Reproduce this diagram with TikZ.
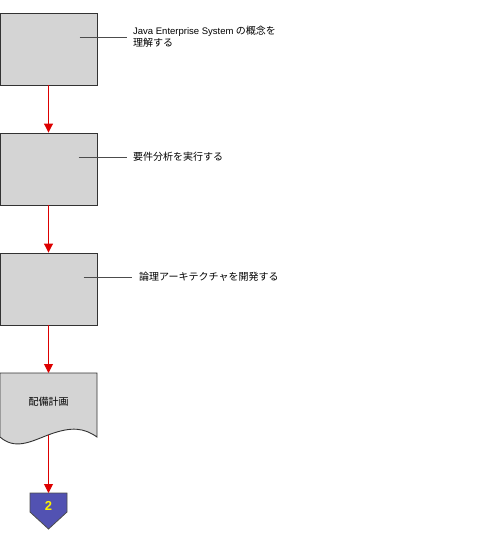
\documentclass[tikz,border=0pt]{standalone}
\usepackage{fontspec}
\setmainfont{Noto Sans CJK JP}
\newfontfamily\latin{Liberation Sans}
\usetikzlibrary{calc,positioning,arrows.meta}

\begin{document}
\begin{tikzpicture}[x=1pt,y=-1pt,font=\fontsize{10}{12}\selectfont]
\definecolor{StepGray}{RGB}{212,212,212}
\definecolor{FlowRed}{RGB}{221,0,0}
\definecolor{LinkBlue}{RGB}{82,82,178}
\def \w{97}
\def \h{72}

\tikzset{
	stepbox/.style={draw=black!80, line width=0.9, fill=StepGray, minimum width=\w pt, minimum height=\h pt, inner sep=0},
	flow/.style={FlowRed, line width=1, -{Triangle[length=9pt,width=9pt]}},
	callout/.style={black!70, line width=0.8},
	note/.style={anchor=west, align=left, inner sep=0}
}

\useasboundingbox (0,0) rectangle (488,535);

%steps
\node[stepbox] (concept) at (48.5,49) {};
\node[stepbox] (analysis) at (48.5,169) {};
\node[stepbox] (design) at (48.5,289) {};

%deployment plan (document shape)
\filldraw[fill=StepGray, draw=black!80, line width=0.9] (0,373) -- (97,373) -- (97,437)
	.. controls (84,428) and (72,426) .. (48,435)
	.. controls (30,442) and (15,450) .. (0,437) -- cycle;
\node[inner sep=0] (plan) at (48.5,402) {配備計画};
\coordinate (planbot) at (48.5,435);

%link to chapter 2
\filldraw[fill=LinkBlue, draw=black!70, line width=0.8] (30,493) -- (67,493) -- (67,512) -- (48.5,529) -- (30,512) -- cycle;
\node[inner sep=0, text=yellow, font=\latin\fontsize{13}{15}\selectfont\bfseries] (next) at (48.5,505.5) {2};
\coordinate (nexttop) at (48.5,493);

%flow
\draw[flow] (concept.south) -- (analysis.north);
\draw[flow] (analysis.south) -- (design.north);
\draw[flow] (design.south) -- (plan.north |- 0,373);
\draw[flow] (planbot) -- (nexttop);

%notes
\node[note] (t1) at (133,37) {{\latin\fontsize{9.5}{12}\selectfont Java Enterprise System} の概念を\\理解する};
\node[note] (t2) at (133,157) {要件分析を実行する};
\node[note] (t3) at (139,277) {論理アーキテクチャを開発する};

\draw[callout] ($(concept.center)+(31,-12)$) -- ($(t1.west)+(-6,0)$);
\draw[callout] ($(analysis.center)+(30,-12)$) -- ($(t2.west)+(-6,0)$);
\draw[callout] ($(design.center)+(35,-12)$) -- ($(t3.west)+(-7,0)$);

\end{tikzpicture}
\end{document}
